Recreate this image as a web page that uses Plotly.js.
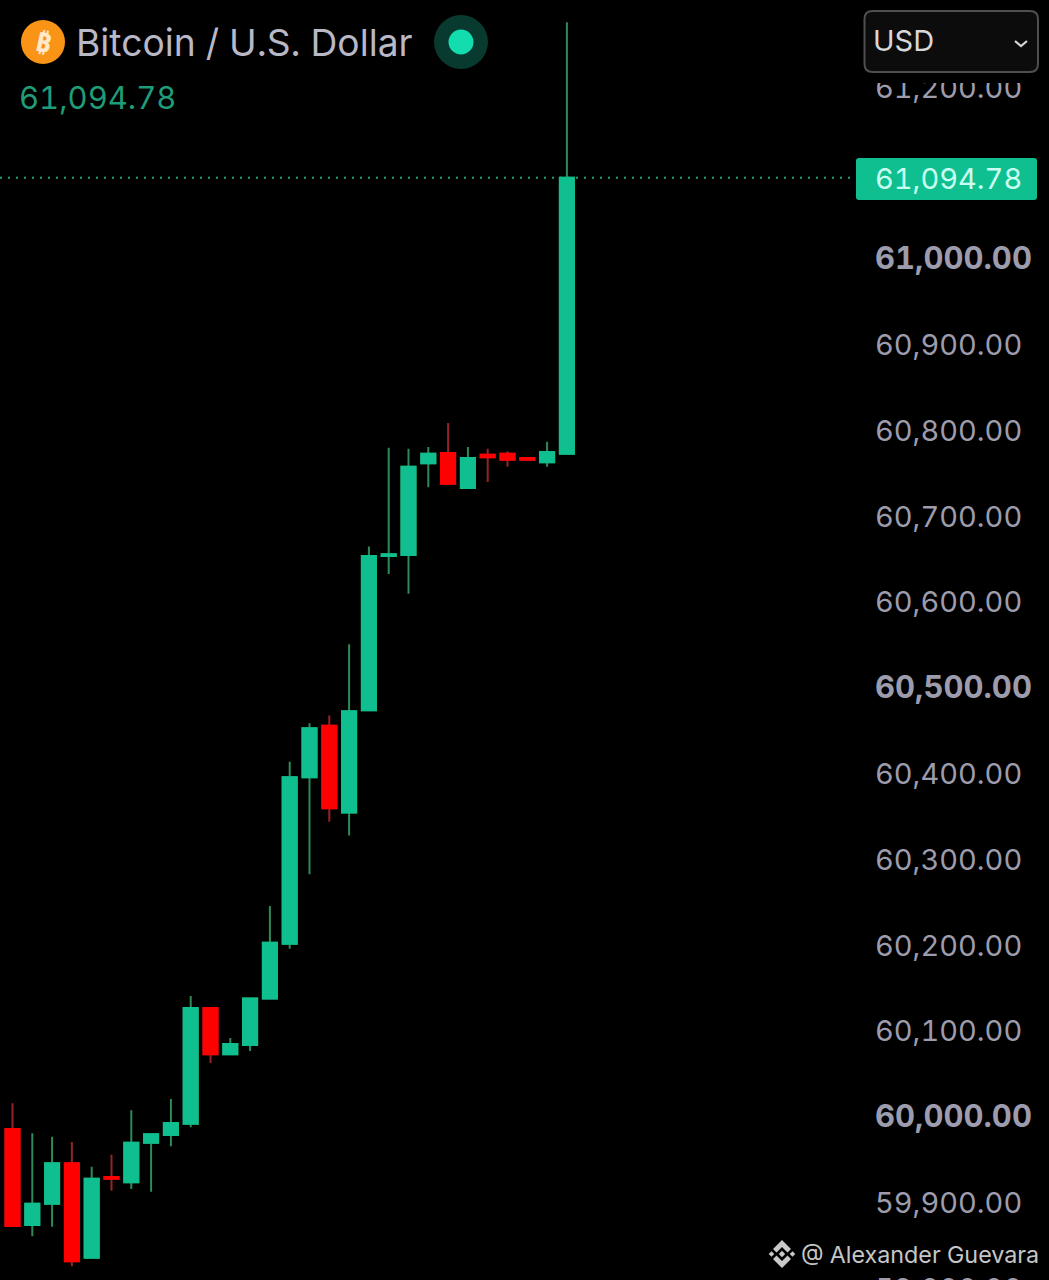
<!DOCTYPE html>
<html><head><meta charset="utf-8">
<script src="https://cdn.plot.ly/plotly-3.0.1.min.js"></script>
<style>html,body{margin:0;padding:0;background:#000;overflow:hidden;width:1049px;height:1280px}#c{width:1049px;height:1320px}svg text{font-feature-settings:"tnum" 1;font-variant-numeric:tabular-nums}</style>
</head><body><div id="c"></div>
<script>
const candleIndex=[0,1,2,3,4,5,6,7,8,9,10,11,12,13,14,15,16,17,18,19,20,21,22,23,24,25,26,27,28];
const open =[59986,59874,59899,59946,59836,59930,59924,59970,59979,59992,60127,60073,60084,60138,60202,60396,60456,60355,60474,60654,60655,60762,60774,60733,60772,60773,60768,60763,60773];
const close=[59873,59899,59946,59832,59928,59928,59970,59980,59993,60127,60073,60085,60138,60203,60396,60453,60360,60473,60654,60656,60758,60773,60738,60768,60769,60766,60766,60775,61094.78];
const high =[60016,59981,59977,59971,59942,59956,60008,59980,60021,60141,60127,60092,60138,60246,60414,60459,60468,60551,60665,60780,60779,60781,60809,60781,60779,60776,60768,60787,61276];
const low  =[59873,59861,59872,59826,59836,59914,59916,59913,59966,59988,60063,60072,60077,60138,60196,60283,60344,60328,60474,60633,60610,60734,60738,60733,60740,60758,60766,60758,60773];
const tickValues=[59800,59900,60000,60100,60200,60300,60400,60500,60600,60700,60800,60900,61000,61200];
const tickLabels=['59,800.00','59,900.00','<b>60,000.00</b>','60,100.00','60,200.00','60,300.00','60,400.00','<b>60,500.00</b>','60,600.00','60,700.00','60,800.00','60,900.00','<b>61,000.00</b>','61,200.00'].map(t=>t.startsWith('<b>')?'<span style="font-size:31px">'+t+'</span>':t);
const lastPrice=61094.78;
const lastPriceLabel='61,094.78';
const titleText='Bitcoin / U.S. Dollar';
const currencyLabel='USD';
const creditText='@ Alexander Guevara';

const W=1049,H=1320,PW=874;
const UP='#10bf8f',DOWN='#ff0000',UPW='#2f8a58',DOWNW='#962424';
const px=x=>x/PW, py=y=>1-y/H;
const FONT='Inter, sans-serif';

function pth(pts){return 'M'+pts.map(p=>px(p[0])+','+py(p[1])).join('L')+'Z';}
function rrect(x0,y0,x1,y1,r){
  const P=(x,y)=>px(x)+','+py(y);
  return 'M'+P(x0+r,y0)+'L'+P(x1-r,y0)+'Q'+P(x1,y0)+' '+P(x1,y0+r)+'L'+P(x1,y1-r)+'Q'+P(x1,y1)+' '+P(x1-r,y1)+'L'+P(x0+r,y1)+'Q'+P(x0,y1)+' '+P(x0,y1-r)+'L'+P(x0,y0+r)+'Q'+P(x0,y0)+' '+P(x0+r,y0)+'Z';
}
function paperShape(o){return Object.assign({type:'path',xref:'paper',yref:'paper',layer:'above',line:{width:0}},o);}
function circle(cx,cy,r,fill){return {type:'circle',xref:'paper',yref:'paper',layer:'above',x0:px(cx-r),x1:px(cx+r),y0:py(cy+r),y1:py(cy-r),fillcolor:fill,line:{width:0}};}
function diamond(cx,cy,r){return [[cx,cy-r],[cx+r,cy],[cx,cy+r],[cx-r,cy]];}
function label(text,x,y,size,color,extra){return Object.assign({text,xref:'paper',yref:'paper',x:px(x),y:py(y),xanchor:'left',yanchor:'middle',showarrow:false,font:{family:FONT,size,color}},extra||{});}

const wickTrace={type:'candlestick',x:candleIndex,open,high,low,close,whiskerwidth:0,hoverinfo:'skip',
  increasing:{line:{color:UPW,width:2},fillcolor:UP},decreasing:{line:{color:DOWNW,width:2},fillcolor:DOWN}};
const bodyTrace={type:'candlestick',x:candleIndex,open,close,
  high:open.map((o,i)=>Math.max(o,close[i])),low:open.map((o,i)=>Math.min(o,close[i])),whiskerwidth:0,hoverinfo:'skip',
  increasing:{line:{color:UP,width:2},fillcolor:UP},decreasing:{line:{color:DOWN,width:2},fillcolor:DOWN}};

const icon='#c9c9c9';
const shapes=[
  {type:'line',xref:'paper',yref:'y',x0:0,x1:1,y0:lastPrice,y1:lastPrice,layer:'below',line:{color:'#22a07f',width:2,dash:'2px,6px'}},
  paperShape({path:rrect(856,158,1037,200,3),fillcolor:'#10bf8f'}),
  paperShape({path:pth([[864,72],[1040,72],[1040,83],[864,83]]),fillcolor:'#000000'}),
  paperShape({path:rrect(864.5,11,1038,72,8),fillcolor:'#0c0c0c',line:{color:'#4f4f4f',width:2}}),
  paperShape({path:'M'+px(1015)+','+py(41)+'L'+px(1021)+','+py(46)+'L'+px(1027)+','+py(41),line:{color:'#d8d8d8',width:2.2}}),
  circle(43,42,22,'#fa9417'),
  circle(461,42,27,'#083a30'),
  circle(461,42,12.5,'#13dcae'),
  paperShape({path:pth([[782,1240],[791,1249],[787.5,1252.5],[782,1247],[776.5,1252.5],[773,1249]]),fillcolor:icon}),
  paperShape({path:pth([[782,1268],[791,1259],[787.5,1255.5],[782,1261],[776.5,1255.5],[773,1259]]),fillcolor:icon}),
  paperShape({path:pth(diamond(782,1254,3.2)),fillcolor:icon}),
  paperShape({path:pth(diamond(771.5,1254,2.8)),fillcolor:icon}),
  paperShape({path:pth(diamond(792.5,1254,2.8)),fillcolor:icon})
];
const annotations=[
  label('<b>₿</b>',43,42,28,'#ffe9c8',{xanchor:'center',textangle:12,font:{family:'DejaVu Sans, Noto Sans',size:27,color:'#ffe9c8'}}),
  label(titleText,74,42,37.2,'#b8b8c6'),
  label(lastPriceLabel,17,98,31,'#1f9c78'),
  label(lastPriceLabel,873,178,29,'#c8fff0'),
  label(currencyLabel,871,41,29,'#d8d8d8'),
  label(creditText,799,1254,23.3,'#c6c6c6')
];
const layout={width:W,height:H,paper_bgcolor:'#000',plot_bgcolor:'#000',showlegend:false,
  margin:{l:0,r:W-PW,t:0,b:0},boxgap:0.29,boxgroupgap:0,
  xaxis:{visible:false,type:'linear',range:[-0.631,(PW-12.5)/19.8],rangeslider:{visible:false},fixedrange:true},
  yaxis:{side:'right',range:[59763.4,61301.9],tickmode:'array',tickvals:tickValues,ticktext:tickLabels,showgrid:false,zeroline:false,showline:false,ticks:'',ticklen:0,fixedrange:true,
    tickfont:{family:FONT,size:29,color:'#9c9cac'}},
  shapes,annotations};
Plotly.newPlot('c',[wickTrace,bodyTrace],layout,{displayModeBar:false,staticPlot:true});
</script></body></html>
